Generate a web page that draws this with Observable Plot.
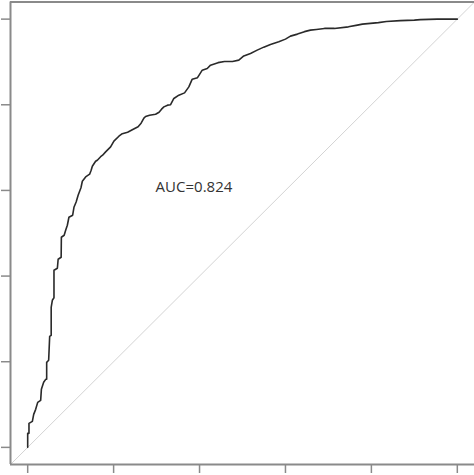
<!DOCTYPE html>
<html>
<head>
<meta charset="utf-8">
<script src="https://cdn.jsdelivr.net/npm/d3@7"></script>
<script src="https://cdn.jsdelivr.net/npm/@observablehq/plot@0.6"></script>
<style>
  html, body { margin: 0; padding: 0; background: #fff; }
  svg { display: block; }
</style>
</head>
<body>
<div id="chart"></div>
<script>
// ROC curve points (false positive rate, true positive rate)
const fpr = [0, 0, 0.003, 0.003, 0.0109, 0.014, 0.0186, 0.0233, 0.0302, 0.0319,
  0.0372, 0.0419, 0.0442, 0.0442, 0.0488, 0.0512, 0.0547, 0.0547, 0.0574, 0.0612,
  0.0612, 0.0691, 0.0709, 0.0779, 0.0784, 0.0849, 0.0884, 0.0923, 0.0960, 0.1047,
  0.1077, 0.1128, 0.1174, 0.1240, 0.1272, 0.1349, 0.1442, 0.1477, 0.1505, 0.1581,
  0.1621, 0.1698, 0.1744, 0.1814, 0.1930, 0.2007, 0.2123, 0.2202, 0.2326, 0.2435,
  0.2570, 0.2640, 0.2705, 0.2744, 0.2837, 0.2977, 0.3058, 0.3116, 0.3170, 0.3256,
  0.3326, 0.3402, 0.3519, 0.3651, 0.3751, 0.3830, 0.3953, 0.4063, 0.4179, 0.4256,
  0.4430, 0.4581, 0.4767, 0.4914, 0.5030, 0.5186, 0.5342, 0.5495, 0.5651, 0.5844,
  0.6000, 0.6116, 0.6279, 0.6442, 0.6581, 0.6721, 0.6907, 0.7140, 0.7465, 0.7674,
  0.7791, 0.8163, 0.8349, 0.8674, 0.9000, 0.9140, 0.9535, 1];
const tpr = [0, 0.0327, 0.0327, 0.0561, 0.0607, 0.0771, 0.0888, 0.1051, 0.1098, 0.1355,
  0.1519, 0.1589, 0.1589, 0.1986, 0.2033, 0.2593, 0.2617, 0.3271, 0.3435, 0.3493,
  0.4136, 0.4182, 0.4393, 0.4439, 0.4907, 0.4953, 0.5070, 0.5187, 0.5374, 0.5421,
  0.5607, 0.5731, 0.5888, 0.6063, 0.6215, 0.6315, 0.6379, 0.6472, 0.6565, 0.6682,
  0.6706, 0.6787, 0.6822, 0.6900, 0.7016, 0.7150, 0.7266, 0.7325, 0.7360, 0.7418,
  0.7488, 0.7570, 0.7687, 0.7727, 0.7757, 0.7780, 0.7827, 0.7897, 0.7951, 0.7991,
  0.8002, 0.8147, 0.8224, 0.8278, 0.8418, 0.8598, 0.8633, 0.8808, 0.8848, 0.8925,
  0.8984, 0.9012, 0.9012, 0.9042, 0.9140, 0.9199, 0.9276, 0.9346, 0.9409, 0.9470,
  0.9533, 0.9603, 0.9650, 0.9708, 0.9743, 0.9759, 0.9783, 0.9783, 0.9820, 0.9860,
  0.9883, 0.9918, 0.9946, 0.9965, 0.9977, 0.9988, 1, 1];

const axisLimits = [-0.04, 1.04];
const tickValues = [0, 0.2, 0.4, 0.6, 0.8, 1];
const aucLabel = ["AUC=0.824"];
const aucPos = {x: 0.387, y: 0.607};

const roc = fpr.map((x, i) => ({fpr: x, tpr: tpr[i]}));

const chart = Plot.plot({
  width: 474,
  height: 475,
  marginLeft: 10,
  marginRight: 0,
  marginTop: 1.5,
  marginBottom: 11,
  style: {background: "#fff"},
  x: {domain: axisLimits, axis: null},
  y: {domain: axisLimits, axis: null},
  marks: [
    Plot.line(axisLimits, {x: d => d, y: d => d, stroke: "#d4d4d4", strokeWidth: 1}),
    Plot.line(roc, {x: "fpr", y: "tpr", stroke: "#2a2a2a", strokeWidth: 1.6, curve: "linear"}),
    Plot.text(aucLabel, {x: () => aucPos.x, y: () => aucPos.y, text: d => d, fontSize: 15,
      fontFamily: "'Open Sans', sans-serif", fill: "#333", textAnchor: "middle"}),
    Plot.ruleX([axisLimits[0]], {stroke: "#8a8a8a", strokeWidth: 2}),
    Plot.ruleY(axisLimits, {stroke: "#8a8a8a", strokeWidth: 2}),
    Plot.axisX({ticks: tickValues, tickSize: 9, tickFormat: () => "", label: null, stroke: "#8a8a8a", strokeWidth: 1.5}),
    Plot.axisY({ticks: tickValues, tickSize: 9, tickFormat: () => "", label: null, stroke: "#8a8a8a", strokeWidth: 1.5})
  ]
});
document.getElementById("chart").appendChild(chart);
</script>
</body>
</html>
